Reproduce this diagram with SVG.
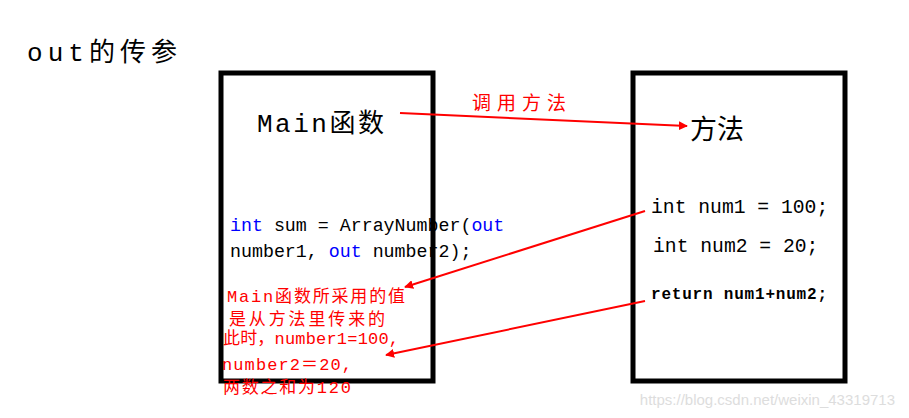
<svg xmlns="http://www.w3.org/2000/svg" width="909" height="418" viewBox="0 0 909 418">
<style>
.box{fill:#fff;stroke:#000;stroke-width:5}
.m{font-family:"Liberation Mono","Noto Sans CJK SC",monospace}
.r{fill:#f00}
.a{stroke:#f00;stroke-width:2;fill:none;marker-end:url(#ah)}
</style>
<defs><marker id="ah" viewBox="0 0 10 10" refX="9" refY="5" markerWidth="9" markerHeight="9" orient="auto" markerUnits="userSpaceOnUse"><path d="M0,0L10,5L0,10z" fill="#f00"/></marker></defs>
<rect width="909" height="418" fill="#fff"/>
<text x="27" y="61" class="m" font-size="26" textLength="150">out的传参</text>
<g id="main"><rect class="box" x="221" y="73" width="212" height="308"/>
<text x="257" y="132" class="m" font-size="26" textLength="127">Main函数</text>
<text x="230" y="231" class="m" font-size="18.3"><tspan fill="#00f">int</tspan> sum = ArrayNumber(<tspan fill="#00f">out</tspan></text>
<text x="230" y="257" class="m" font-size="18.3">number1, <tspan fill="#00f">out</tspan> number2);</text>
</g>
<g id="method"><rect class="box" x="633" y="73" width="212" height="308"/>
<text x="690" y="139" class="m" font-size="27">方法</text>
<text x="651" y="213" class="m" font-size="19.7">int num1 = 100;</text>
<text x="653" y="252" class="m" font-size="19.7">int num2 = 20;</text>
<text x="651" y="299" class="m" font-size="16" font-weight="bold" textLength="176">return num1+num2;</text>
</g>
<g id="note" class="m r" font-size="17">
<text x="227" y="302" textLength="178">Main函数所采用的值</text>
<text x="229" y="325" textLength="156">是从方法里传来的</text>
<text x="223" y="344" textLength="176">此时，number1=100,</text>
<text x="222" y="370" textLength="130">number2＝20,</text>
<text x="223" y="393" textLength="128">两数之和为120</text>
</g>
<g id="connectors">
<line class="a" x1="400" y1="113" x2="687" y2="126"/>
<text x="472" y="110" class="m r" font-size="19" textLength="94">调用方法</text>
<line class="a" x1="645" y1="211" x2="405" y2="287"/>
<line class="a" x1="645" y1="301" x2="386" y2="355"/>
</g>
<text x="895" y="405" text-anchor="end" font-family="Liberation Sans,sans-serif" font-size="15" fill="#ddd">https://blog.csdn.net/weixin_43319713</text>
</svg>
